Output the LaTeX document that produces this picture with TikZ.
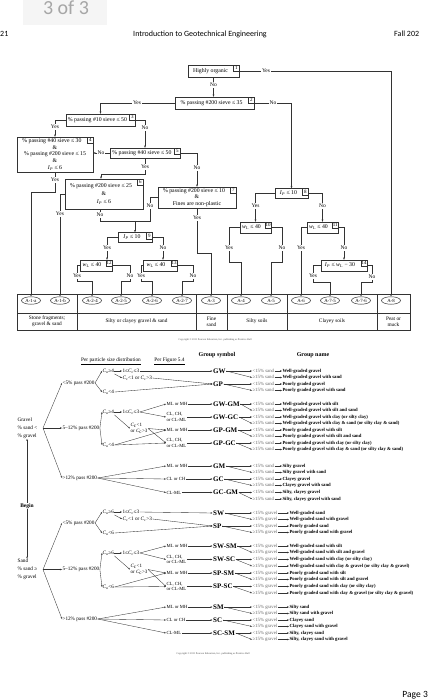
\documentclass[tikz,border=0pt]{standalone}
\usepackage{fontspec}
\setmainfont{Liberation Serif}
\newfontfamily\hdr{Carlito}
\usetikzlibrary{arrows.meta,shapes.geometric}
\newcommand\myCu{\textit{C}\textsubscript{u}}
\newcommand\myCc{\textit{C}\textsubscript{c}}
\newcommand\myIP{\textit{I}\textsubscript{\textit{P}}}
\newcommand\mywL{\textit{w}\textsubscript{L}}
\newcommand\qtag[2]{\node[tagst] (#1t) at (#1.north east) {#2};}
\tikzset{
  ln/.style={draw=black!80, line width=0.45pt},
  arr/.style={ln, -{Stealth[length=2.4pt,width=1.9pt]}},
  sarr/.style={draw=black!80, line width=0.35pt, -{Stealth[length=2pt,width=1.6pt]}},
  qbox/.style={draw=black!80, line width=0.45pt, inner sep=0.8pt, align=center, font=\fontsize{5.8}{6.8}\selectfont},
  tagst/.style={draw=black!80, line width=0.45pt, inner sep=0.4pt, anchor=north east, minimum width=5.5pt, minimum height=6.3pt, font=\fontsize{5}{5}\selectfont},
  yn/.style={fill=white, inner sep=0.7pt, font=\fontsize{5.5}{6}\selectfont},
  grp/.style={draw=black!80, line width=0.5pt, ellipse, minimum width=19pt, minimum height=7.5pt, inner sep=0pt, font=\fontsize{4.8}{5}\selectfont},
  cell/.style={align=center, font=\fontsize{5.3}{6.3}\selectfont, inner sep=0pt},
  lab/.style={inner sep=0.4pt, font=\fontsize{5.2}{6}\selectfont, text height=3.6pt, text depth=1.1pt},
  lab2/.style={inner sep=0.4pt, font=\fontsize{5}{6}\selectfont, align=left},
  ml/.style={inner sep=0.4pt, font=\fontsize{4.7}{5.6}\selectfont, align=left},
  sym/.style={inner sep=0.5pt, font=\bfseries\fontsize{7}{7}\selectfont, text height=4.8pt, text depth=0pt},
  pct/.style={inner sep=0.4pt, font=\fontsize{4.8}{5}\selectfont, text=black!60, text height=3.2pt, text depth=0.9pt},
  gname/.style={inner sep=0.4pt, font=\bfseries\fontsize{4.7}{5}\selectfont, text height=3.2pt, text depth=0.9pt},
  hd/.style={inner sep=0.5pt, font=\bfseries\fontsize{6}{6}\selectfont},
  cpy/.style={inner sep=0pt, font=\fontsize{2.6}{3}\selectfont, text=black!70},
}
% #1 id, #2 symbol, #3 y1, #4 y2, #5 word, #6 name x, #7 name1, #8 name2
\newcommand\gpair[8]{%
 \node[sym, anchor=west] (#1) at (212.5,#3) {#2};
 \node[pct, anchor=west] (#1a) at (252,#3) {<15\% #5};
 \node[pct, anchor=west] (#1b) at (252,#4) {≥15\% #5};
 \node[gname, anchor=west] (#1c) at (#6,#3) {#7};
 \node[gname, anchor=west] (#1d) at (#6,#4) {#8};
 \draw[sarr] (#1.east) -- (#1a.west);
 \draw[sarr] (#1.east) -- (#1b.west);
 \draw[sarr] (#1a.east) -- (#1c.west);
 \draw[sarr] (#1b.east) -- (#1d.west);
}
\begin{document}
\begin{tikzpicture}[x=1pt,y=-1pt]
\useasboundingbox (0,0) rectangle (429,700);
% ---------- page header ----------
\fill[black!4] (23,0) rectangle (107,25);
\node[font=\hdr\fontsize{20}{20}\selectfont, text=black!35, anchor=base, inner sep=0pt] (pg) at (66,15) {3 of 3};
\node[font=\hdr\fontsize{8}{8}\selectfont, anchor=base west, inner sep=0pt] (hl) at (0,36.5) {21};
\node[font=\hdr\fontsize{8}{8}\selectfont, anchor=base, inner sep=0pt] (ht) at (200,36.5) {Introduction to Geotechnical Engineering};
\node[font=\hdr\fontsize{8}{8}\selectfont, anchor=base west, inner sep=0pt] (hr) at (394,36.5) {Fall 202};
\node[font=\hdr\fontsize{9.5}{9.5}\selectfont, anchor=base east, inner sep=0pt] (pn) at (428,697) {Page 3};

% ---------- AASHTO flow chart ----------
\node[qbox, minimum width=51pt, minimum height=12pt] (b1) at (213.5,71) {Highly organic\hspace*{6pt}}; \qtag{b1}{1}
\node[qbox, minimum width=79pt, minimum height=12pt] (b2) at (214.5,103) {\% passing \#200 sieve ≤ 35\hspace*{6pt}}; \qtag{b2}{2}
\node[qbox, minimum width=69pt, minimum height=12pt] (b3) at (100.5,120) {\% passing \#10 sieve ≤ 50\hspace*{6pt}}; \qtag{b3}{3}
\node[qbox, minimum width=76pt, minimum height=35pt] (b4) at (55,154.5) {\% passing \#40 sieve ≤ 30\hspace*{6pt}\\\&\\\% passing \#200 sieve ≤ 15\\\&\\\myIP{} ≤ 6}; \qtag{b4}{4}
\node[qbox, minimum width=70pt, minimum height=10pt] (b5) at (145,153) {\% passing \#40 sieve ≤ 50\hspace*{6pt}}; \qtag{b5}{5}
\node[qbox, minimum width=78pt, minimum height=30pt] (b6) at (104,194) {\% passing \#200 sieve ≤ 25\hspace*{6pt}\\[1.5pt]\&\\[1.5pt]\myIP{} ≤ 6}; \qtag{b6}{6}
\node[qbox, minimum width=78pt, minimum height=21pt] (b7) at (197,197.5) {\% passing \#200 sieve ≤ 10\hspace*{6pt}\\\&\\Fines are non-plastic}; \qtag{b7}{7}
\node[qbox, minimum width=33pt, minimum height=10pt] (b8) at (291.5,193.5) {\myIP{} ≤ 10\hspace*{6pt}}; \qtag{b8}{8}
\node[qbox, minimum width=34pt, minimum height=10pt] (b9) at (135,237.5) {\myIP{} ≤ 10\hspace*{6pt}}; \qtag{b9}{9}
\node[qbox, minimum width=31pt, minimum height=11pt] (b10) at (255.5,227.5) {\mywL{} ≤ 40\hspace*{8pt}}; \qtag{b10}{10}
\node[qbox, minimum width=31pt, minimum height=11pt] (b11) at (322.5,227.5) {\mywL{} ≤ 40\hspace*{8pt}}; \qtag{b11}{11}
\node[qbox, minimum width=32pt, minimum height=11pt] (b12) at (96,265.5) {\mywL{} ≤ 40\hspace*{8pt}}; \qtag{b12}{12}
\node[qbox, minimum width=34pt, minimum height=11pt] (b13) at (160,265.5) {\mywL{} ≤ 40\hspace*{8pt}}; \qtag{b13}{13}
\node[qbox, minimum width=46pt, minimum height=11pt] (b14) at (344,265.5) {\myIP{} ≤ \mywL{} − 30\hspace*{8pt}}; \qtag{b14}{14}

\foreach \n/\x/\t in {a1a/31/A-1-a, a1b/60/A-1-b, a24/92/A-2-4, a25/121/A-2-5, a26/152/A-2-6, a27/182/A-2-7, a3/211/A-3, a4/241/A-4, a5/271/A-5, a6/301/A-6, a75/330/A-7-5, a76/361/A-7-6, a8/391/A-8}
  \node[grp] (\n) at (\x,300.5) {\t};

\coordinate (j56) at (101,174);
\coordinate (j4) at (31,192);
\coordinate (j6) at (100,221);
\coordinate (j9) at (135,221);
\coordinate (j7) at (150,221);
\coordinate (j7b) at (211,253);
\coordinate (k12) at (107,237.5);
\coordinate (k13) at (163,237.5);
\coordinate (m1) at (77,281);
\coordinate (m2) at (130,281);
\coordinate (m3) at (141,281);
\coordinate (m4) at (193,281);
\coordinate (m5) at (229,262);
\coordinate (m6) at (282,262);
\coordinate (m7) at (313,282);
\coordinate (m8) at (372,282);

\draw[arr] (b1.east) -| (a8.north);
\draw[arr] (b1.south) -- (b1.south |- b2.north);
\draw[arr] (b2.west) -| (b3.north);
\draw[arr] (b2.east) -| (b8.north);
\draw[arr] (b3.west) -| (b4.north);
\draw[arr] (b3.east) -| (b5.north);
\draw[arr] (b5.west) -- (b5.west -| b4.east);
\draw[arr] (b5.east) -| (b7.north);
\draw[arr] (b5.south) |- (j56) -- (j56 |- b6.north);
\draw[arr] (b4.south) |- (j4) -- (a1a.north);
\draw[arr] (b6.west) -| (a1b.north);
\draw[ln] (b6.south -| j6) -- (j6) -- (j9);
\draw[ln] (b7.west) -| (j7) -- (j9);
\draw[arr] (j9) -- (b9.north);
\draw[arr] (b7.south) |- (j7b) -- (a3.north);
\draw[arr] (b9.west) -- (k12) -- (k12 |- b12.north);
\draw[arr] (b9.east) -- (k13) -- (k13 |- b13.north);
\draw[arr] (b12.west) -| (m1) -| (a24.north);
\draw[arr] (b12.east) -| (m2) -| (a25.north);
\draw[arr] (b13.west) -| (m3) -| (a26.north);
\draw[arr] (b13.east) -| (m4) -| (a27.north);
\draw[arr] (b8.west) -| (b10.north);
\draw[arr] (b8.east) -| (b11.north);
\draw[arr] (b10.west) -| (m5) -| (a4.north);
\draw[arr] (b10.east) -| (m6) -| (a5.north);
\draw[arr] (b11.west) -| (a6.north);
\draw[arr] (b11.east) -| (b14.north);
\draw[arr] (b14.west) -| (m7) -| (a75.north);
\draw[arr] (b14.east) -| (m8) -| (a76.north);

\foreach \i/\x/\y/\t in {1/266/71/Yes, 2/213.5/85/No, 3/137/103/Yes, 4/273/103/No, 5/55/127/Yes, 6/145/128/No, 7/101/153/No, 8/197/168/No, 9/145/167/Yes, 10/55/180/Yes, 11/60/214/Yes, 12/100/215/No, 13/150/206/No, 14/197/218/Yes, 15/107/248/Yes, 16/163/248/No, 17/77/276/Yes, 18/130/276/No, 19/141/276/Yes, 20/193/276/No, 21/255.5/206/Yes, 22/322.5/206/No, 23/229/248/Yes, 24/282/248/No, 25/301/248/Yes, 26/344/248/No, 27/313/276/Yes, 28/372/277/No}
  \node[yn] (yn\i) at (\x,\y) {\t};

% table
\draw[ln] (17,294) rectangle (410,330);
\draw[ln] (17,313) -- (410,313);
\foreach \x in {77,196,227,287,377} \draw[ln] (\x,294) -- (\x,330);
\node[cell] (t1) at (47,321.5) {Stone fragments;\\gravel \& sand};
\node[cell] (t2) at (136.5,321.5) {Silty or clayey gravel \& sand};
\node[cell] (t3) at (211.5,321.5) {Fine\\sand};
\node[cell] (t4) at (257,321.5) {Silty soils};
\node[cell] (t5) at (332,321.5) {Clayey soils};
\node[cell] (t6) at (393.5,321.5) {Peat or\\muck};
\node[cpy] (cp1) at (215,340) {Copyright © 2011 Pearson Education, Inc. publishing as Prentice Hall};

% ---------- USCS flow chart ----------
\node[inner sep=0.3pt, font=\fontsize{5.3}{6}\selectfont] (h1) at (111,361) {\underline{Per particle size distribution}};
\node[inner sep=0.3pt, font=\fontsize{5.3}{6}\selectfont] (h2) at (169.5,361) {\underline{Per Figure 5.4}};
\node[hd] (h3) at (217,355) {Group symbol};
\node[hd] (h4) at (313,355) {Group name};

\gpair{GW}{GW}{371}{377.5}{sand}{282}{Well-graded gravel}{Well-graded gravel with sand}
\gpair{GP}{GP}{384}{390.5}{sand}{282}{Poorly graded gravel}{Poorly graded gravel with sand}
\gpair{GWGM}{GW-GM}{404}{410.5}{sand}{282}{Well-graded gravel with silt}{Well-graded gravel with silt and sand}
\gpair{GWGC}{GW-GC}{417}{423.5}{sand}{282}{Well-graded gravel with clay (or silty clay)}{Well-graded gravel with clay \& sand (or silty clay \& sand)}
\gpair{GPGM}{GP-GM}{430}{436.5}{sand}{282}{Poorly graded gravel with silt}{Poorly graded gravel with silt and sand}
\gpair{GPGC}{GP-GC}{443}{449.5}{sand}{282}{Poorly graded gravel with clay (or silty clay)}{Poorly graded gravel with clay \& sand (or silty clay \& sand)}
\gpair{GM}{GM}{466}{472.5}{sand}{282}{Silty gravel}{Silty gravel with sand}
\gpair{GC}{GC}{479}{485.5}{sand}{282}{Clayey gravel}{Clayey gravel with sand}
\gpair{GCGM}{GC-GM}{492.5}{499}{sand}{282}{Silty, clayey gravel}{Silty, clayey gravel with sand}
\gpair{SW}{SW}{513}{519.5}{gravel}{289}{Well-graded sand}{Well-graded sand with gravel}
\gpair{SP}{SP}{526}{532.5}{gravel}{289}{Poorly graded sand}{Poorly graded sand with gravel}
\gpair{SWSM}{SW-SM}{546}{552.5}{gravel}{289}{Well-graded sand with silt}{Well-graded sand with silt and gravel}
\gpair{SWSC}{SW-SC}{559.5}{566}{gravel}{289}{Well-graded sand with clay (or silty clay)}{Well-graded sand with clay \& gravel (or silty clay \& gravel)}
\gpair{SPSM}{SP-SM}{573}{579.5}{gravel}{289}{Poorly graded sand with silt}{Poorly graded sand with silt and gravel}
\gpair{SPSC}{SP-SC}{586.5}{593}{gravel}{289}{Poorly graded sand with clay (or silty clay)}{Poorly graded sand with clay \& gravel (or silty clay \& gravel)}
\gpair{SM}{SM}{607}{613.5}{gravel}{289}{Silty sand}{Silty sand with gravel}
\gpair{SC}{SC}{620}{626.5}{gravel}{289}{Clayey sand}{Clayey sand with gravel}
\gpair{SCSM}{SC-SM}{633}{639.5}{gravel}{289}{Silty, clayey sand}{Silty, clayey sand with gravel}

% left part
\node[lab2, anchor=west, font=\fontsize{5.3}{7.8}\selectfont] (gravel) at (17,428) {Gravel\\\% sand <\\\% gravel};
\node[lab2, anchor=west, font=\fontsize{5.3}{7.8}\selectfont] (sand) at (17,569.5) {Sand\\\% sand ≥\\\% gravel};
\node[font=\bfseries\fontsize{5.5}{6}\selectfont, inner sep=0.5pt] (begin) at (27,506) {Begin};
\draw[sarr] (begin.north) -- (begin.north |- gravel.south);
\draw[sarr] (begin.south) -- (begin.south |- sand.north);

\coordinate (gs) at (43,428);
\coordinate (ss) at (43,569.5);
\node[lab, anchor=west] (g5) at (62,383) {<5\% pass \#200};
\node[lab, anchor=west] (g512) at (62,428) {5–12\% pass \#200};
\node[lab, anchor=west] (g12) at (62,478) {>12\% pass \#200};
\node[lab, anchor=west] (s5) at (62,523) {<5\% pass \#200};
\node[lab, anchor=west] (s512) at (62,569.5) {5–12\% pass \#200};
\node[lab, anchor=west] (s12) at (62,619) {>12\% pass \#200};
\foreach \t in {g5,g512,g12} \draw[sarr] (gs) -- (\t.west);
\foreach \t in {s5,s512,s12} \draw[sarr] (ss) -- (\t.west);

% gravel <5%
\node[lab, anchor=west] (gcu) at (102,371) {\myCu≥4};
\node[lab, anchor=west] (gcl) at (102,392) {\myCu<4};
\node[lab, anchor=west] (gcc) at (122,371) {1≤\myCc≤3};
\node[lab, anchor=west] (gcx) at (122,378) {\myCc<1 or \myCc>3};
\draw[sarr] (g5.east) -- (gcu.west);
\draw[sarr] (g5.east) -- (gcl.west);
\draw[sarr] (gcu.east) -- (gcc.west);
\draw[sarr] (gcu.south east) -- (gcx.west);
\draw[sarr] (gcc.east) -- (GW.west);
\draw[sarr] (gcx.east) -- (GP.west);
\draw[sarr] (gcl.east) -- (GP.west);

% gravel 5-12%
\node[lab, anchor=west] (hcu) at (102,412) {\myCu≥4};
\node[lab, anchor=west] (hcl) at (102,445) {\myCu<4};
\node[lab, anchor=west] (hcc) at (122,412) {1≤\myCc≤3};
\node[lab2, anchor=west] (hcx) at (130,428.5) {\myCc<1\\or \myCc>3};
\node[ml, anchor=west] (hm1) at (166,404) {ML or MH};
\node[ml, anchor=west] (hk1) at (166,417) {CL, CH,\\or CL-ML};
\node[ml, anchor=west] (hm2) at (166,430) {ML or MH};
\node[ml, anchor=west] (hk2) at (166,443) {CL, CH,\\or CL-ML};
\draw[sarr] (g512.east) -- (hcu.west);
\draw[sarr] (g512.east) -- (hcl.west);
\draw[sarr] (hcu.east) -- (hcc.west);
\draw[sarr] (hcu.south east) -- (hcx.west);
\draw[sarr] (hcc.east) -- (hm1.west);
\draw[sarr] (hcc.east) -- (hk1.west);
\draw[sarr] (hcx.east) -- (hm2.west);
\draw[sarr] (hcx.east) -- (hk2.west);
\draw[sarr] (hcl.east) -- (hm2.west);
\draw[sarr] (hcl.east) -- (hk2.west);
\draw[sarr] (hm1.east) -- (GWGM.west);
\draw[sarr] (hk1.east) -- (GWGC.west);
\draw[sarr] (hm2.east) -- (GPGM.west);
\draw[sarr] (hk2.east) -- (GPGC.west);

% gravel >12%
\node[ml, anchor=west] (im) at (166,466) {ML or MH};
\node[ml, anchor=west] (ik) at (166,479) {CL or CH};
\node[ml, anchor=west] (ikm) at (166,492.5) {CL-ML};
\draw[sarr] (g12.east) -- (im.west);
\draw[sarr] (g12.east) -- (ik.west);
\draw[sarr] (g12.east) -- (ikm.west);
\draw[sarr] (im.east) -- (GM.west);
\draw[sarr] (ik.east) -- (GC.west);
\draw[sarr] (ikm.east) -- (GCGM.west);

% sand <5%
\node[lab, anchor=west] (scu) at (102,512) {\myCu≥6};
\node[lab, anchor=west] (scl) at (102,533) {\myCu<6};
\node[lab, anchor=west] (scc) at (122,512) {1≤\myCc≤3};
\node[lab, anchor=west] (scx) at (122,519) {\myCc<1 or \myCc>3};
\draw[sarr] (s5.east) -- (scu.west);
\draw[sarr] (s5.east) -- (scl.west);
\draw[sarr] (scu.east) -- (scc.west);
\draw[sarr] (scu.south east) -- (scx.west);
\draw[sarr] (scc.east) -- (SW.west);
\draw[sarr] (scx.east) -- (SP.west);
\draw[sarr] (scl.east) -- (SP.west);

% sand 5-12%
\node[lab, anchor=west] (tcu) at (102,553) {\myCu≥6};
\node[lab, anchor=west] (tcl) at (102,587) {\myCu<6};
\node[lab, anchor=west] (tcc) at (122,553) {1≤\myCc≤3};
\node[lab2, anchor=west] (tcx) at (130,569.5) {\myCc<1\\or \myCc>3};
\node[ml, anchor=west] (tm1) at (166,546) {ML or MH};
\node[ml, anchor=west] (tk1) at (166,559.5) {CL, CH,\\or CL-ML};
\node[ml, anchor=west] (tm2) at (166,573) {ML or MH};
\node[ml, anchor=west] (tk2) at (166,586.5) {CL, CH,\\or CL-ML};
\draw[sarr] (s512.east) -- (tcu.west);
\draw[sarr] (s512.east) -- (tcl.west);
\draw[sarr] (tcu.east) -- (tcc.west);
\draw[sarr] (tcu.south east) -- (tcx.west);
\draw[sarr] (tcc.east) -- (tm1.west);
\draw[sarr] (tcc.east) -- (tk1.west);
\draw[sarr] (tcx.east) -- (tm2.west);
\draw[sarr] (tcx.east) -- (tk2.west);
\draw[sarr] (tcl.east) -- (tm2.west);
\draw[sarr] (tcl.east) -- (tk2.west);
\draw[sarr] (tm1.east) -- (SWSM.west);
\draw[sarr] (tk1.east) -- (SWSC.west);
\draw[sarr] (tm2.east) -- (SPSM.west);
\draw[sarr] (tk2.east) -- (SPSC.west);

% sand >12%
\node[ml, anchor=west] (um) at (166,607) {ML or MH};
\node[ml, anchor=west] (uk) at (166,620) {CL or CH};
\node[ml, anchor=west] (ukm) at (166,633) {CL-ML};
\draw[sarr] (s12.east) -- (um.west);
\draw[sarr] (s12.east) -- (uk.west);
\draw[sarr] (s12.east) -- (ukm.west);
\draw[sarr] (um.east) -- (SM.west);
\draw[sarr] (uk.east) -- (SC.west);
\draw[sarr] (ukm.east) -- (SCSM.west);

\node[cpy] (cp2) at (213,654) {Copyright © 2011 Pearson Education, Inc. publishing as Prentice Hall};
\end{tikzpicture}
\end{document}
